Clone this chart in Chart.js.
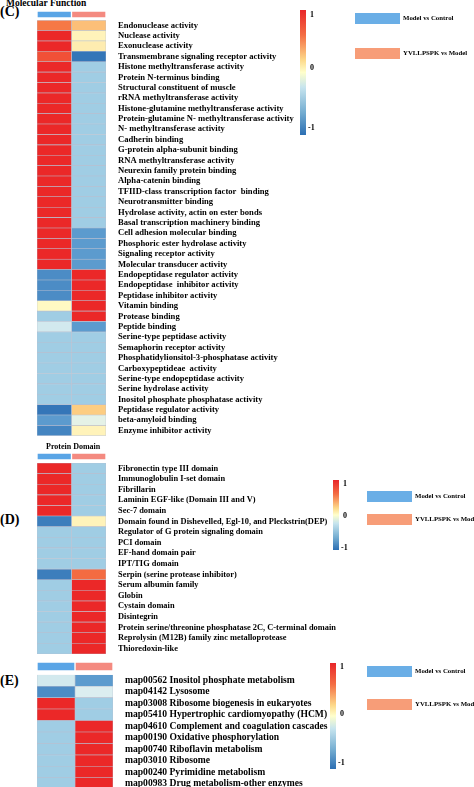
<!DOCTYPE html>
<html><head><meta charset="utf-8">
<script src="https://cdn.jsdelivr.net/npm/chart.js@4"></script>
<style>
body{margin:0;width:474px;height:787px;position:relative;overflow:hidden;background:#fff;font-family:"Liberation Serif",serif;font-weight:bold;color:#000}
canvas{position:absolute}
.t{position:absolute;white-space:nowrap}
.cb{position:absolute;background:linear-gradient(to bottom,#e8262a 0%,#f46d43 20%,#fdd98a 40%,#ffffcc 50%,#c6e4ee 62%,#74add1 82%,#2c6fb3 100%)}
.lg{position:absolute;width:45px;height:11px}
</style></head><body>
<script>
const mfLabels=["Endonuclease activity","Nuclease activity","Exonuclease activity","Transmembrane signaling receptor activity","Histone methyltransferase activity","Protein N-terminus binding","Structural constituent of muscle","rRNA methyltransferase activity","Histone-glutamine methyltransferase activity","Protein-glutamine N- methyltransferase activity","N- methyltransferase activity","Cadherin binding","G-protein alpha-subunit binding","RNA methyltransferase activity","Neurexin family protein binding","Alpha-catenin binding","TFIID-class transcription factor  binding","Neurotransmitter binding","Hydrolase activity, actin on ester bonds","Basal transcription machinery binding","Cell adhesion molecular binding","Phosphoric ester hydrolase activity","Signaling receptor activity","Molecular transducer activity","Endopeptidase regulator activity","Endopeptidase  inhibitor activity","Peptidase inhibitor activity","Vitamin binding","Protease binding","Peptide binding","Serine-type peptidase activity","Semaphorin receptor activity","Phosphatidylionsitol-3-phosphatase activity","Carboxypeptideae  activity","Serine-type endopeptidase activity","Serine hydrolase activity","Inositol phosphate phosphatase activity","Peptidase regulator activity","beta-amyloid binding","Enzyme inhibitor activity"];
const mfModel=[0.7,1,1,0.85,1,1,1,1,1,1,1,1,1,1,1,1,1,1,1,1,1,1,1,1,-0.8,-0.8,-0.8,0.05,-0.5,-0.25,-0.5,-0.5,-0.5,-0.5,-0.5,-0.5,-0.5,-0.95,-0.7,-0.85];
const mfPep=[0.45,0.1,0.15,-0.95,-0.5,-0.5,-0.5,-0.5,-0.5,-0.5,-0.5,-0.5,-0.5,-0.5,-0.5,-0.5,-0.5,-0.5,-0.5,-0.5,-0.7,-0.7,-0.7,-0.7,1,1,1,1,1,-0.7,-0.5,-0.5,-0.5,-0.5,-0.5,-0.5,-0.5,0.4,-0.15,0.1];
const pdLabels=["Fibronectin type III domain","Immunoglobulin I-set domain","Fibrillarin","Laminin EGF-like (Domain III and V)","Sec-7 domain","Domain found in Dishevelled, Egl-10, and Pleckstrin(DEP)","Regulator of G protein signaling domain","PCI domain","EF-hand domain pair","IPT/TIG domain","Serpin (serine protease inhibitor)","Serum albumin family","Globin","Cystain domain","Disintegrin","Protein serine/threonine phosphatase 2C, C-terminal domain","Reprolysin (M12B) family zinc metalloprotease","Thioredoxin-like"];
const pdModel=[1,1,1,1,1,-0.9,-0.5,-0.5,-0.5,-0.5,-0.9,-0.5,-0.5,-0.5,-0.5,-0.5,-0.5,-0.5];
const pdPep=[-0.5,-0.5,-0.5,-0.5,-0.5,0.1,-0.5,-0.5,-0.5,-0.5,0.75,1,1,1,1,1,1,1];
const kgLabels=["map00562 Inositol phosphate metabolism","map04142 Lysosome","map03008 Ribosome biogenesis in eukaryotes","map05410 Hypertrophic cardiomyopathy (HCM)","map04610 Complement and coagulation cascades","map00190 Oxidative phosphorylation","map00740 Riboflavin metabolism","map03010 Ribosome","map00240 Pyrimidine metabolism","map00983 Drug metabolism-other enzymes"];
const kgModel=[-0.25,-0.8,1,1,-0.5,-0.5,-0.5,-0.5,-0.5,-0.5];
const kgPep=[-0.7,-0.2,-0.5,-0.5,1,1,1,1,1,1];
const groupNames=["Model vs Control","YVLLPSPK vs Model"];

function lerp(a,b,t){return a.map((v,i)=>Math.round(v+(b[i]-v)*t));}
const stops=[[-1,[44,111,179]],[-0.7,[92,155,206]],[-0.5,[160,205,228]],[-0.2,[220,238,240]],[0,[255,255,204]],[0.4,[253,205,130]],[0.7,[246,120,70]],[1,[235,40,40]]];
function col(v){for(let i=0;i<stops.length-1;i++){const[a,ca]=stops[i],[b,cb]=stops[i+1];if(v<=b){const c=lerp(ca,cb,(v-a)/(b-a));return`rgb(${c})`;}}return'rgb(235,40,40)';}

function makeHeat(left,top,w,h,labW,labels,a,b,fs){
  const c=document.createElement('canvas');c.width=w;c.height=h;c.style.left=left+'px';c.style.top=top+'px';document.body.appendChild(c);
  const ch=new Chart(c,{type:'bar',data:{labels,datasets:[
    {data:labels.map(()=>[0,1]),backgroundColor:a.map(col),borderColor:'#b8bfd0',borderWidth:0.6,borderSkipped:false},
    {data:labels.map(()=>[1,2]),backgroundColor:b.map(col),borderColor:'#b8bfd0',borderWidth:0.6,borderSkipped:false}]},
    options:{indexAxis:'y',responsive:false,animation:false,layout:{padding:0},
      datasets:{bar:{grouped:false,barPercentage:1,categoryPercentage:1}},
      plugins:{legend:{display:false},tooltip:{enabled:false}},
      scales:{x:{display:false,min:0,max:2},
        y:{position:'right',grid:{display:false},border:{display:false},afterFit:s=>{s.width=labW;},
          ticks:{autoSkip:false,color:'#000',padding:4,font:{family:'Liberation Serif',weight:'bold',size:fs}}}}}});
  return [c,ch];
}
function heat(left,top,cellW,labW,h,labels,a,b,fs){
  let [c,ch]=makeHeat(left,top,cellW+labW,h,labW,labels,a,b,fs);
  const pt=ch.chartArea.top, pb=h-ch.chartArea.bottom;
  ch.destroy();c.remove();
  makeHeat(left,top-pt,cellW+labW,Math.round(h+pt+pb),labW,labels,a,b,fs);
}
function header(left,top,w,h){
  const c=document.createElement('canvas');c.width=w;c.height=h;c.style.left=left+'px';c.style.top=top+'px';document.body.appendChild(c);
  new Chart(c,{type:'bar',data:{labels:[''],datasets:[
    {data:[[0,1]],backgroundColor:'#5aa5e6',borderColor:'#fff',borderWidth:1,borderSkipped:false},
    {data:[[1,2]],backgroundColor:'#f48a80',borderColor:'#fff',borderWidth:1,borderSkipped:false}]},
    options:{indexAxis:'y',responsive:false,animation:false,datasets:{bar:{grouped:false,barPercentage:1,categoryPercentage:1}},
      plugins:{legend:{display:false},tooltip:{enabled:false}},scales:{x:{display:false,min:0,max:2},y:{display:false}}}});
}
function txt(x,y,s,fs){const d=document.createElement('div');d.className='t';d.style.left=x+'px';d.style.top=y+'px';d.style.fontSize=fs+'px';d.textContent=s;document.body.appendChild(d);}
function cbar(x,y,w,h,y1,y0,ym){const d=document.createElement('div');d.className='cb';Object.assign(d.style,{left:x+'px',top:y+'px',width:w+'px',height:h+'px'});document.body.appendChild(d);
  txt(x+w+4,y1,'1',8);txt(x+w+4,y0,'0',8);txt(x+w+2,ym,'-1',8);}
function legend(x,y1,y2){
  [[y1,'#6aaee6',groupNames[0]],[y2,'#f79d78',groupNames[1]]].forEach(([y,c,n])=>{const d=document.createElement('div');d.className='lg';d.style.left=x+'px';d.style.top=y+'px';d.style.background=c;document.body.appendChild(d);txt(x+48,y+1,n,6.8);});
}

// Panel C
txt(0,4,'(C)',14);txt(6,-2,'Molecular Function',9.5);
header(37,11,69,7);
heat(37,20.5,69,200,415.5,mfLabels,mfModel,mfPep,8.6);
cbar(300,10,6,125,10,63,123);legend(355,13,48);
// Panel D
txt(0,512,'(D)',14);txt(46,442,'Protein Domain',8);
header(37,453,69,7);
heat(37,463,69,290,190.5,pdLabels,pdModel,pdPep,8.4);
cbar(333,480,6,70,479,511,543);legend(367,491,514);
// Panel E
txt(0,673,'(E)',14);
header(37,662,76,9);
heat(37,674.5,76,240,114,kgLabels,kgModel,kgPep,9.6);
cbar(330,663,6,106,662,709,758);legend(367,666,699);
</script>
</body></html>
